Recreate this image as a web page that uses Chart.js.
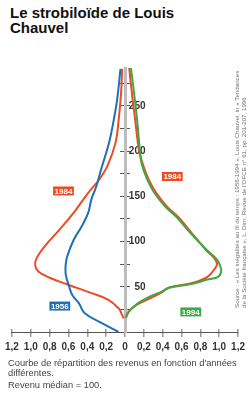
<!DOCTYPE html>
<html lang="fr">
<head>
<meta charset="utf-8">
<script src="https://cdn.jsdelivr.net/npm/chart.js@4.4.0/dist/chart.umd.min.js"></script>
<style>
  html, body { margin: 0; padding: 0; background: #fff; }
  body { width: 250px; height: 394px; position: relative; overflow: hidden; font-family: "Liberation Sans", Arial, sans-serif; }
  #titre { position: absolute; left: 10px; top: 4.7px; font-size: 15px; font-weight: bold; line-height: 15.6px; color: #111; }
  #zone { position: absolute; left: 0; top: 0; width: 250px; height: 394px; }
  #legende { position: absolute; left: 8px; top: 359px; font-size: 9.3px; line-height: 9.5px; color: #444; }
  #legende p { margin: 0; }
  #source { position: absolute; left: 234px; top: 308px; width: 240px; font-size: 6.2px; line-height: 6.6px; color: #777;
            white-space: nowrap; transform: rotate(-90deg); transform-origin: 0 0; }
</style>
</head>
<body>
<div id="titre">Le strobiloïde de Louis<br>Chauvel</div>
<div id="zone"><canvas id="graphique"></canvas></div>
<div id="source">Source : « Les inégalités au fil du temps : 1956-1994 », Louis Chauvel, in « Tendances<br>de la Société française », L. Dirn, Revue de l'OFCE n° 61, pp. 201-207, 1996</div>
<div id="legende"><p>Courbe de répartition des revenus en fonction d'années<br>différentes.</p><p style="margin-top:3px">Revenu médian = 100.</p></div>
<script>
// revenus (médian = 100) et densités
const revenus1956 = [0, 10, 21, 32, 41, 51, 63, 74, 84, 102, 117, 132, 147, 161, 180, 210, 236, 258, 291];
const densite1956 = [0.069, 0.25, 0.43, 0.49, 0.56, 0.595, 0.628, 0.63, 0.612, 0.544, 0.459, 0.39, 0.356, 0.305, 0.253, 0.168, 0.117, 0.082, 0.048];

const revenus1984g = [15, 19, 26, 36, 43, 52, 60, 67, 74, 82, 97, 113, 132, 154, 169, 184, 210, 236, 265, 291];
const densite1984g = [0.014, 0.031, 0.066, 0.185, 0.356, 0.595, 0.8, 0.92, 0.954, 0.937, 0.835, 0.697, 0.544, 0.39, 0.271, 0.185, 0.099, 0.066, 0.041, 0.031];

const revenus1984d = [15.5, 22.5, 30, 37, 44, 49, 54, 61, 71, 76, 82, 91, 110, 127, 139, 154, 169, 186, 202, 232, 265, 293];
const densite1984d = [0.01, 0.037, 0.123, 0.26, 0.396, 0.465, 0.704, 0.875, 0.96, 0.977, 0.944, 0.857, 0.704, 0.567, 0.444, 0.331, 0.249, 0.188, 0.147, 0.111, 0.072, 0.044];

const revenus1994 = [17, 24, 32, 39, 45, 49, 53, 58, 61, 67, 72.6, 80, 91, 110, 127, 139, 154, 169, 186, 202, 232, 265, 293];
const densite1994 = [0.01, 0.054, 0.139, 0.26, 0.396, 0.465, 0.704, 0.875, 0.988, 1.021, 1.011, 0.977, 0.865, 0.69, 0.547, 0.424, 0.311, 0.234, 0.177, 0.157, 0.131, 0.095, 0.062];

const ticksX = [-1.2, -1, -0.8, -0.6, -0.4, -0.2, 0, 0.2, 0.4, 0.6, 0.8, 1, 1.2];

const ORANGE = "#ee4b25", BLEU = "#1f6fb8", VERT = "#3fa845";

function points(revenus, densites, cote) {
  return revenus.map((r, i) => ({ x: cote * densites[i], y: r }));
}

function serie(nom, data, couleur) {
  return { label: nom, data: data, borderColor: couleur, borderWidth: 2, pointRadius: 0, showLine: true, tension: 0.4, fill: false };
}

const etiquettes = [
  { texte: "1984", x: -0.653, y: 156, couleur: ORANGE },
  { texte: "1984", x: 0.502, y: 172, couleur: ORANGE },
  { texte: "1956", x: -0.692, y: 28.7, couleur: BLEU },
  { texte: "1994", x: 0.698, y: 22.2, couleur: VERT }
];

const pluginEtiquettes = {
  id: "etiquettes",
  afterDatasetsDraw(chart) {
    const ctx = chart.ctx;
    ctx.save();
    ctx.font = 'bold 8px "Liberation Sans", Arial, sans-serif';
    ctx.textAlign = "center";
    ctx.textBaseline = "middle";
    etiquettes.forEach(e => {
      let px = chart.scales.x.getPixelForValue(e.x);
      let py = chart.scales.y.getPixelForValue(e.y);
      let w = ctx.measureText(e.texte).width + 3, h = 9;
      ctx.fillStyle = e.couleur;
      ctx.fillRect(px - w / 2, py - h / 2, w, h);
      ctx.fillStyle = "#fff";
      ctx.fillText(e.texte, px, py + 0.5);
    });
    ctx.restore();
  }
};

Chart.defaults.font.family = '"Liberation Sans", Arial, sans-serif';

let ctx = document.getElementById("graphique").getContext("2d");
let graphique = new Chart(ctx, {
  type: "scatter",
  data: {
    datasets: [
      serie("1956", points(revenus1956, densite1956, -1), BLEU),
      serie("1994", points(revenus1994, densite1994, 1), VERT),
      serie("1984", points(revenus1984g, densite1984g, -1), ORANGE),
      serie("1984", points(revenus1984d, densite1984d, 1), ORANGE)
    ]
  },
  options: {
    responsive: true, maintainAspectRatio: false, animation: false,
    layout: { padding: { left: 7.7, right: 8, top: 68, bottom: 62 } },
    plugins: { legend: { display: false }, tooltip: { enabled: false } },
    scales: {
      x: {
        type: "linear", min: -1.2, max: 1.2, position: { y: 0 },
        afterBuildTicks: s => { s.ticks = ticksX.map(v => ({ value: v })); },
        border: { color: "#555", width: 1 },
        grid: { drawOnChartArea: false, tickLength: 4, color: "#999", lineWidth: 1.5 },
        ticks: {
          autoSkip: false, maxRotation: 0, padding: 5, color: "#333", font: { size: 10, weight: "bold" },
          callback: v => v === 0 ? "0" : Math.abs(v).toFixed(1).replace(".", ",")
        }
      },
      xHaut: {
        type: "linear", axis: "x", min: -1.2, max: 1.2, position: { y: 3.4 },
        afterBuildTicks: s => { s.ticks = ticksX.map(v => ({ value: v })); },
        border: { display: false },
        grid: { drawOnChartArea: false, tickLength: 3, color: "#999", lineWidth: 1.5 },
        ticks: { display: false }
      },
      y: {
        type: "linear", min: 0, max: 292, position: { x: 0 },
        border: { color: "#bdbdbd", width: 3 },
        grid: { display: false },
        ticks: { display: false }
      },
      yTraits: {
        type: "linear", axis: "y", min: 0, max: 292, position: { x: 0.055 },
        border: { display: false },
        grid: { drawOnChartArea: false, tickLength: 10, color: "#555", lineWidth: 1 },
        ticks: { display: false, stepSize: 25, includeBounds: false }
      },
      yLabels: {
        type: "linear", axis: "y", min: 0, max: 292, position: { x: 0.218 },
        border: { display: false },
        grid: { display: false },
        ticks: { stepSize: 50, includeBounds: false, color: "#333", font: { size: 10, weight: "bold" },
                 callback: v => v === 0 ? "" : v }
      }
    }
  },
  plugins: [pluginEtiquettes]
});
</script>
</body>
</html>
